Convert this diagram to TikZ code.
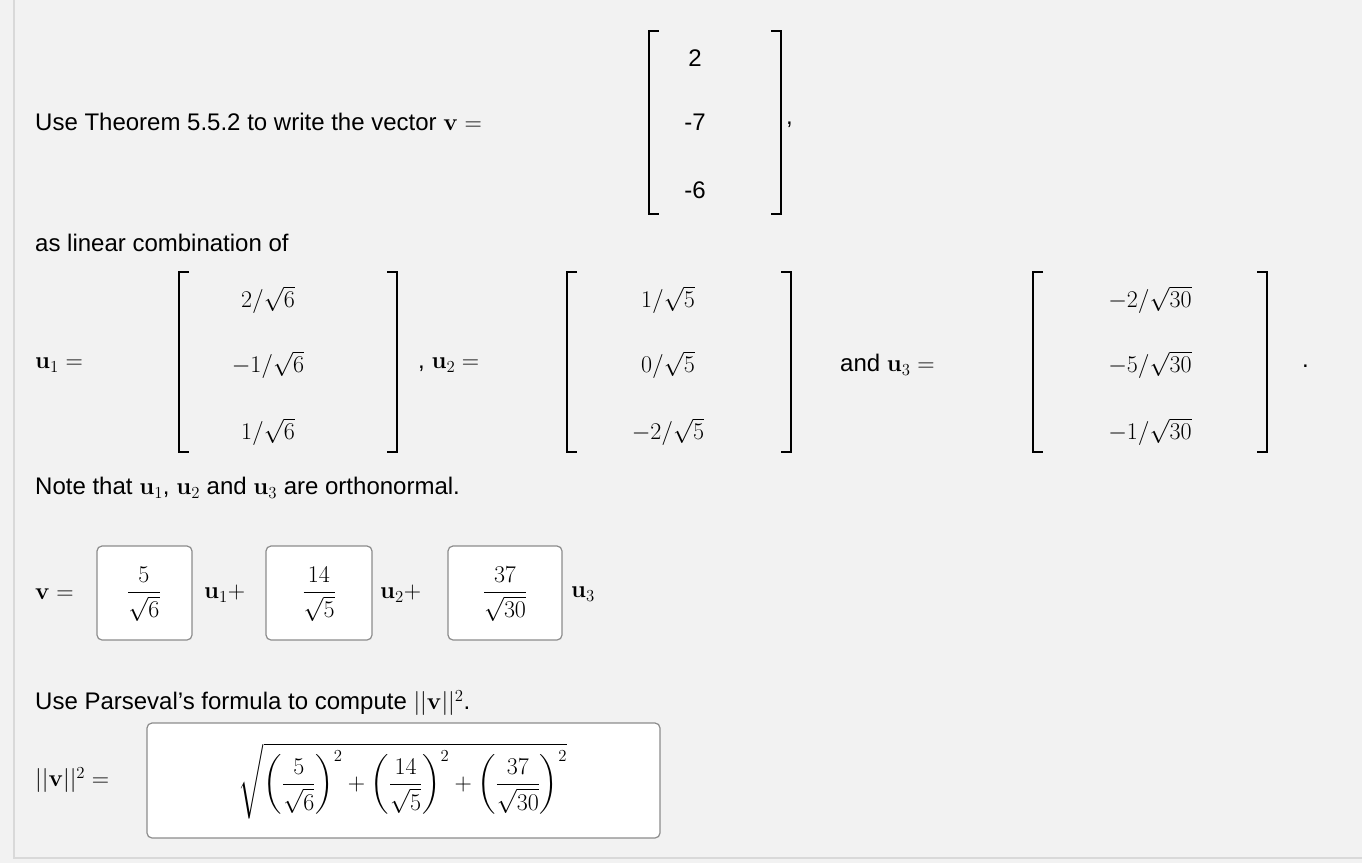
\RequirePackage{fix-cm}
\documentclass[tikz,border=0pt]{standalone}
\usepackage{amsmath}
\usepackage[no-math]{fontspec}
\setmainfont{Liberation Sans}
\begin{document}
\begin{tikzpicture}[x=1pt,y=-1pt,
  txt/.style={anchor=west,inner sep=0pt,font=\fontsize{24}{28}\selectfont},
  ent/.style={inner sep=0pt,font=\fontsize{24}{28}\selectfont},
  ansbox/.style={draw=black!45,line width=1.2pt,rounded corners=5pt,fill=white},
  brk/.style={line width=2pt}]
\useasboundingbox (0,0) rectangle (1362,863);
\fill[black!5] (0,0) rectangle (1362,863);
\draw[black!15,line width=1.5pt] (14,0) -- (14,858) -- (1362,858);
\newcommand{\bmat}[4]{%
  \draw[brk] (#1+10,#3) -- (#1,#3) -- (#1,#4) -- (#1+10,#4);
  \draw[brk] (#2-10,#3) -- (#2,#3) -- (#2,#4) -- (#2-10,#4);}
\node[txt] (t1) at (35,122) {Use Theorem 5.5.2 to write the vector $\mathbf{v} =$};
\bmat{649}{781}{31}{214}
\node[ent] (v1) at (695,58) {2};
\node[ent] (v2) at (695,122) {-7};
\node[ent] (v3) at (695,190) {-6};
\node[txt] (c1) at (786,125) {,};
\node[txt] (t2) at (35,243) {as linear combination of};
\node[txt] (u1l) at (35,365) {$\mathbf{u}_1 =$};
\bmat{179}{397}{272}{452}
\node[ent] (a1) at (268,300) {$2/\sqrt{6}$};
\node[ent] (a2) at (268,365) {$-1/\sqrt{6}$};
\node[ent] (a3) at (268,432) {$1/\sqrt{6}$};
\node[txt] (u2l) at (418,365) {, $\mathbf{u}_2 =$};
\bmat{567}{791}{272}{452}
\node[ent] (b1) at (668,300) {$1/\sqrt{5}$};
\node[ent] (b2) at (668,365) {$0/\sqrt{5}$};
\node[ent] (b3) at (668,432) {$-2/\sqrt{5}$};
\node[txt] (u3l) at (840,365) {and $\mathbf{u}_3 =$};
\bmat{1033}{1267}{272}{452}
\node[ent] (c1a) at (1150,300) {$-2/\sqrt{30}$};
\node[ent] (c2a) at (1150,365) {$-5/\sqrt{30}$};
\node[ent] (c3a) at (1150,432) {$-1/\sqrt{30}$};
\node[txt] (dot) at (1302,366) {.};
\node[txt] (t3) at (35,488) {Note that $\mathbf{u}_1$, $\mathbf{u}_2$ and $\mathbf{u}_3$ are orthonormal.};
\node[txt] (veq) at (35,594) {$\mathbf{v} =$};
\draw[ansbox] (97,546) rectangle (192,640);
\node[ent] (f1) at (144,594) {$\dfrac{5}{\sqrt{6}}$};
\node[txt] (p1) at (204,594) {$\mathbf{u}_1 +$};
\draw[ansbox] (266,546) rectangle (372,640);
\node[ent] (f2) at (319,594) {$\dfrac{14}{\sqrt{5}}$};
\node[txt] (p2) at (380,594) {$\mathbf{u}_2 +$};
\draw[ansbox] (448,546) rectangle (562,640);
\node[ent] (f3) at (505,594) {$\dfrac{37}{\sqrt{30}}$};
\node[txt] (p3) at (571,594) {$\mathbf{u}_3$};
\node[txt] (t4) at (35,703) {Use Parseval's formula to compute $||\mathbf{v}||^2$.};
\node[txt] (n2) at (35,780) {$||\mathbf{v}||^2 =$};
\draw[ansbox] (147,723) rectangle (660,838);
\node[ent] (sq) at (403,781) {$\sqrt{\left(\dfrac{5}{\sqrt{6}}\right)^2+\left(\dfrac{14}{\sqrt{5}}\right)^2+\left(\dfrac{37}{\sqrt{30}}\right)^2}$};
\end{tikzpicture}
\end{document}
